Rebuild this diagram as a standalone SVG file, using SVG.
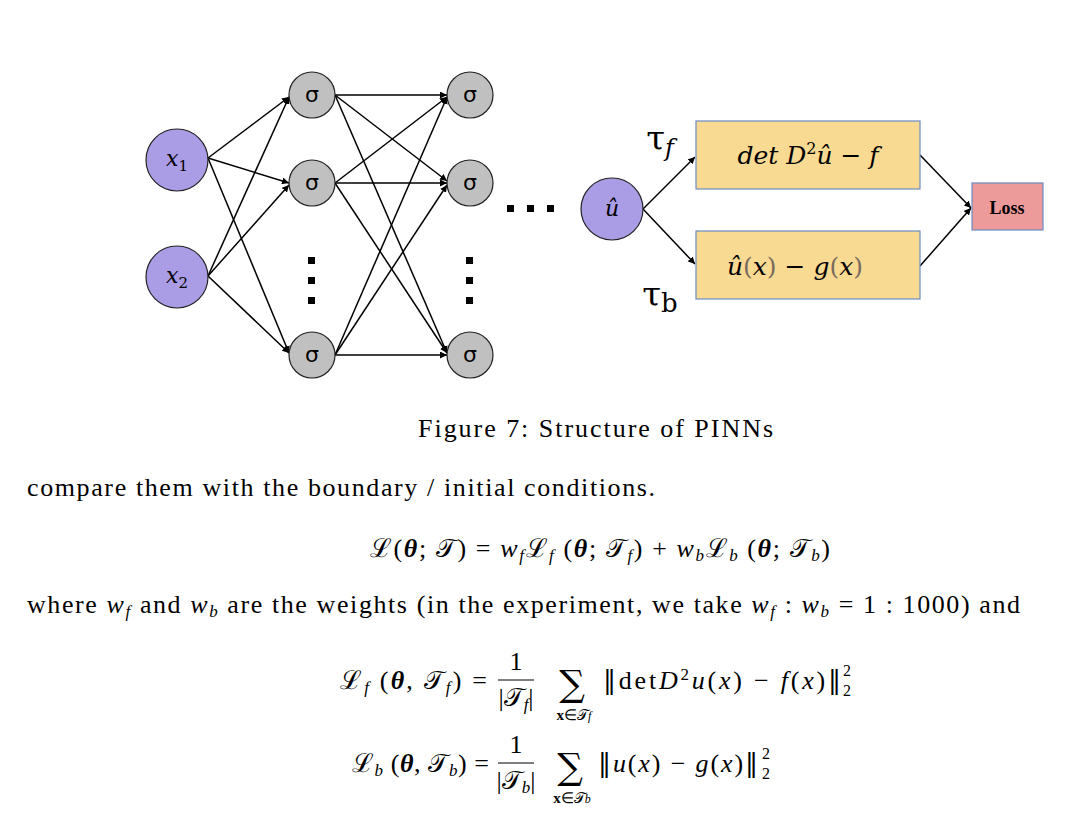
<svg xmlns="http://www.w3.org/2000/svg" width="1090" height="826" viewBox="0 0 1090 826">
<style>
.in{fill:#ab9ce6;stroke:#222;stroke-width:1.2}
.hid{fill:#c0c0c0;stroke:#222;stroke-width:1.2}
.box{fill:#f9da92;stroke:#6b8cc4;stroke-width:1.2}
.e{stroke:#000;stroke-width:1.5;fill:none;marker-end:url(#a)}
.ci{font-family:'DejaVu Serif',serif;font-style:italic;font-size:22px;text-anchor:middle}
.bx{font-family:'DejaVu Serif',serif;font-style:italic;font-size:25px;text-anchor:middle}
.sg{font-family:'DejaVu Sans',sans-serif;font-size:22px;text-anchor:middle}
.t{font-family:'Liberation Serif',serif;font-size:26px}
.m{font-family:'Liberation Serif',serif;font-size:26px}
.n{font-family:'DejaVu Serif',serif;font-style:normal}
</style>
<defs><marker id="a" viewBox="0 0 10 10" refX="10" refY="5" markerWidth="7" markerHeight="7" orient="auto" markerUnits="userSpaceOnUse"><path d="M0,0L10,5L0,10z" fill="#000"/></marker></defs>
<rect width="1090" height="826" fill="#fff"/>
<g id="connectors">
<line class="e" x1="208" y1="158" x2="289" y2="97"/>
<line class="e" x1="208" y1="158" x2="289" y2="183"/>
<line class="e" x1="208" y1="158" x2="289" y2="353"/>
<line class="e" x1="208" y1="276" x2="289" y2="97"/>
<line class="e" x1="208" y1="276" x2="289" y2="185"/>
<line class="e" x1="208" y1="276" x2="289" y2="353"/>
<line class="e" x1="335" y1="95" x2="447" y2="95"/>
<line class="e" x1="335" y1="95" x2="447" y2="181"/>
<line class="e" x1="335" y1="95" x2="447" y2="353"/>
<line class="e" x1="335" y1="183" x2="447" y2="97"/>
<line class="e" x1="335" y1="183" x2="447" y2="183"/>
<line class="e" x1="335" y1="183" x2="447" y2="353"/>
<line class="e" x1="335" y1="355" x2="447" y2="97"/>
<line class="e" x1="335" y1="355" x2="447" y2="185"/>
<line class="e" x1="335" y1="355" x2="447" y2="355"/>
<line class="e" x1="643" y1="209" x2="695" y2="157"/>
<line class="e" x1="643" y1="209" x2="695" y2="264"/>
<line class="e" x1="920" y1="155" x2="971" y2="208"/>
<line class="e" x1="920" y1="266" x2="971" y2="208"/>
</g>
<g id="x1"><circle class="in" cx="177" cy="160" r="31"/><text class="ci" x="177" y="166">x<tspan style="font-size:15px;font-style:normal" dy="5">1</tspan></text></g>
<g id="x2"><circle class="in" cx="177" cy="277" r="31"/><text class="ci" x="177" y="283">x<tspan style="font-size:15px;font-style:normal" dy="5">2</tspan></text></g>
<g id="h11"><circle class="hid" cx="312" cy="95" r="23"/><text class="sg" x="312" y="102">σ</text></g>
<g id="h12"><circle class="hid" cx="312" cy="183" r="23"/><text class="sg" x="312" y="190">σ</text></g>
<g id="h13"><circle class="hid" cx="312" cy="355" r="23"/><text class="sg" x="312" y="362">σ</text></g>
<g id="h21"><circle class="hid" cx="470" cy="95" r="23"/><text class="sg" x="470" y="102">σ</text></g>
<g id="h22"><circle class="hid" cx="470" cy="183" r="23"/><text class="sg" x="470" y="190">σ</text></g>
<g id="h23"><circle class="hid" cx="470" cy="355" r="23"/><text class="sg" x="470" y="362">σ</text></g>
<g id="dots" fill="#000">
<rect x="308" y="257" width="7" height="7"/><rect x="308" y="277" width="7" height="7"/><rect x="308" y="297" width="7" height="7"/>
<rect x="466" y="257" width="7" height="7"/><rect x="466" y="277" width="7" height="7"/><rect x="466" y="297" width="7" height="7"/>
<rect x="507" y="205" width="7" height="7"/><rect x="527" y="205" width="7" height="7"/><rect x="547" y="205" width="7" height="7"/>
</g>
<g id="uhat"><circle class="in" cx="612" cy="209" r="31"/><text class="ci" x="612" y="216">û</text></g>
<text class="ci" x="660" y="150" style="font-size:34px;font-style:normal">τ<tspan style="font-size:24px;font-style:italic" dy="6">f</tspan></text>
<text class="ci" x="660" y="306" style="font-size:34px;font-style:normal">τ<tspan style="font-size:26px" dy="6">b</tspan></text>
<g id="box1"><rect class="box" x="696" y="121" width="224" height="68"/><text class="bx" x="808" y="164">det D<tspan class="n" style="font-size:16px" dy="-10">2</tspan><tspan dy="10">û − f</tspan></text></g>
<g id="box2"><rect class="box" x="696" y="231" width="224" height="68"/><text class="bx" x="795" y="275">û<tspan fill="#7a6a60" class="n">(</tspan>x<tspan fill="#7a6a60" class="n">)</tspan> − g<tspan fill="#7a6a60" class="n">(</tspan>x<tspan fill="#7a6a60" class="n">)</tspan></text></g>
<g id="loss"><rect x="972" y="183" width="71" height="47" fill="#ec9a9a" stroke="#6b8cc4" stroke-width="1.2"/><text x="1007" y="214" font-family="'Liberation Serif',serif" font-weight="bold" font-size="18" text-anchor="middle">Loss</text></g>
<text class="t" x="418" y="437" textLength="355" lengthAdjust="spacing">Figure 7:   Structure of PINNs</text>
<text class="t" x="27" y="496" textLength="628" lengthAdjust="spacing">compare them with the boundary / initial conditions.</text>
<text class="m" x="370" y="557" textLength="460" lengthAdjust="spacing">ℒ(<tspan font-weight="bold" font-style="italic">θ</tspan>; 𝒯) = <tspan font-style="italic">w<tspan style="font-size:17px" dy="4">f</tspan></tspan><tspan dy="-4">ℒ</tspan><tspan style="font-size:17px;font-style:italic" dy="4">f</tspan><tspan dy="-4"> (</tspan><tspan font-weight="bold" font-style="italic">θ</tspan>; 𝒯<tspan style="font-size:17px;font-style:italic" dy="4">f</tspan><tspan dy="-4">) + </tspan><tspan font-style="italic">w<tspan style="font-size:17px" dy="4">b</tspan></tspan><tspan dy="-4">ℒ</tspan><tspan style="font-size:17px;font-style:italic" dy="4">b</tspan><tspan dy="-4"> (</tspan><tspan font-weight="bold" font-style="italic">θ</tspan>; 𝒯<tspan style="font-size:17px;font-style:italic" dy="4">b</tspan><tspan dy="-4">)</tspan></text>
<text class="t" x="27" y="613" textLength="993" lengthAdjust="spacing">where <tspan font-style="italic">w<tspan style="font-size:17px" dy="4">f</tspan></tspan><tspan dy="-4"> and </tspan><tspan font-style="italic">w<tspan style="font-size:17px" dy="4">b</tspan></tspan><tspan dy="-4"> are the weights (in the experiment, we take </tspan><tspan font-style="italic">w<tspan style="font-size:17px" dy="4">f</tspan></tspan><tspan dy="-4"> : </tspan><tspan font-style="italic">w<tspan style="font-size:17px" dy="4">b</tspan></tspan><tspan dy="-4"> = 1 : 1000) and</tspan></text>
<text class="m" x="340" y="689" textLength="147" lengthAdjust="spacing">ℒ<tspan style="font-size:17px;font-style:italic" dy="4">f</tspan><tspan dy="-4"> (</tspan><tspan font-weight="bold" font-style="italic">θ</tspan>, 𝒯<tspan style="font-size:17px;font-style:italic" dy="4">f</tspan><tspan dy="-4">) =</tspan></text>
<text class="m" x="516" y="670" text-anchor="middle">1</text>
<line x1="498" y1="680" x2="534" y2="680" stroke="#000" stroke-width="1"/>
<text class="m" x="516" y="706" text-anchor="middle">|𝒯<tspan style="font-size:17px;font-style:italic" dy="4">f</tspan><tspan dy="-4">|</tspan></text>
<text x="572" y="696" font-family="'DejaVu Serif',serif" font-size="36" text-anchor="middle">∑</text>
<text x="574" y="720" font-family="'Liberation Serif',serif" font-size="15" text-anchor="middle"><tspan font-weight="bold">x</tspan>∈𝒯<tspan style="font-style:italic;font-size:12px">f</tspan></text>
<text class="m" x="603" y="689" textLength="238" lengthAdjust="spacing"><tspan class="n">‖</tspan>det<tspan font-style="italic">D</tspan><tspan style="font-size:17px" dy="-9">2</tspan><tspan dy="9" font-style="italic">u</tspan>(<tspan font-style="italic">x</tspan>) − <tspan font-style="italic">f</tspan>(<tspan font-style="italic">x</tspan>)<tspan class="n">‖</tspan></text>
<text x="843" y="676" font-family="'Liberation Serif',serif" font-size="16">2</text>
<text x="843" y="696" font-family="'Liberation Serif',serif" font-size="16">2</text>
<text class="m" x="352" y="772" textLength="137" lengthAdjust="spacing">ℒ<tspan style="font-size:17px;font-style:italic" dy="4">b</tspan><tspan dy="-4"> (</tspan><tspan font-weight="bold" font-style="italic">θ</tspan>, 𝒯<tspan style="font-size:17px;font-style:italic" dy="4">b</tspan><tspan dy="-4">)</tspan><tspan> =</tspan></text>
<text class="m" x="516" y="753" text-anchor="middle">1</text>
<line x1="498" y1="763" x2="534" y2="763" stroke="#000" stroke-width="1"/>
<text class="m" x="516" y="789" text-anchor="middle">|𝒯<tspan style="font-size:17px;font-style:italic" dy="4">b</tspan><tspan dy="-4">|</tspan></text>
<text x="570" y="779" font-family="'DejaVu Serif',serif" font-size="36" text-anchor="middle">∑</text>
<text x="572" y="803" font-family="'Liberation Serif',serif" font-size="15" text-anchor="middle"><tspan font-weight="bold">x</tspan>∈𝒯<tspan style="font-style:italic;font-size:12px">b</tspan></text>
<text class="m" x="598" y="772" textLength="160" lengthAdjust="spacing"><tspan class="n">‖</tspan><tspan font-style="italic">u</tspan>(<tspan font-style="italic">x</tspan>) − <tspan font-style="italic">g</tspan>(<tspan font-style="italic">x</tspan>)<tspan class="n">‖</tspan></text>
<text x="762" y="759" font-family="'Liberation Serif',serif" font-size="16">2</text>
<text x="762" y="779" font-family="'Liberation Serif',serif" font-size="16">2</text>
</svg>
